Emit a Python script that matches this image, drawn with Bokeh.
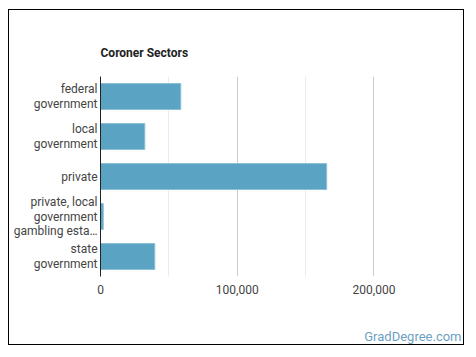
from bokeh.plotting import figure
from bokeh.models import (Range1d, FixedTicker, NumeralTickFormatter, Title,
                          CustomJSTickFormatter)
from bokeh.embed import file_html
from bokeh.resources import INLINE

categories = ["federal\ngovernment", "local\ngovernment", "private",
              "private, local\ngovernment\ngambling esta\u2026", "state\ngovernment"]
values = [58700, 32400, 165400, 2000, 39700]
x_ticks = [0, 100000, 200000]
x_minor = [50000, 150000]

n = len(categories)
ypos = [n - 0.5 - i for i in range(n)]

frame_h = 201
line_units = 15 / (frame_h / n)   # one text line, in y units
tick_y, tick_txt = [], []
for y, cat in zip(ypos, categories):
    lines = cat.split("\n")
    k = len(lines)
    for j, t in enumerate(lines):
        tick_y.append(y + ((k - 1) / 2 - j) * line_units)
        tick_txt.append(t)

p = figure(width=456, height=336, output_backend="svg", toolbar_location=None,
           x_range=Range1d(0, 264000), y_range=Range1d(0, n),
           min_border_left=91, min_border_right=4, min_border_top=66, min_border_bottom=69,
           styles={"border": "1px solid #000000", "transform": "translate(8px, 9px)"})
p.outline_line_color = None
p.background_fill_color = "white"
p.border_fill_color = "white"

p.hbar(y=ypos, right=values, left=0, height=0.65, fill_color="#5ba3c3",
       line_color="#8cc0d8", line_width=1)

p.title.text = "Coroner Sectors"
p.title.align = "left"
p.title.text_font = "Roboto"
p.title.text_font_size = "12px"
p.title.text_font_style = "bold"
p.title.text_color = "#222222"
p.title.standoff = 33

p.xaxis.ticker = FixedTicker(ticks=x_ticks, minor_ticks=x_minor)
p.xaxis.formatter = NumeralTickFormatter(format="0,0")
p.xaxis.axis_line_color = None
p.xaxis.major_tick_line_color = None
p.xaxis.minor_tick_line_color = None
p.xaxis.major_tick_out = 0
p.xaxis.minor_tick_out = 0
p.xaxis.major_label_text_font = "Roboto"
p.xaxis.major_label_text_font_size = "12px"
p.xaxis.major_label_text_color = "#444444"
p.xaxis.major_label_standoff = 8
p.xaxis.axis_label = " "
p.xaxis.axis_label_text_font_size = "12px"
p.xaxis.axis_label_standoff = 10

p.yaxis.ticker = FixedTicker(ticks=tick_y, minor_ticks=[])
p.yaxis.formatter = CustomJSTickFormatter(args=dict(ys=tick_y, txt=tick_txt), code="""
    for (let i = 0; i < ys.length; i++) {
        if (Math.abs(tick - ys[i]) < 1e-6) return txt[i];
    }
    return "";
""")
p.yaxis.axis_line_color = "#222222"
p.yaxis.major_tick_line_color = None
p.yaxis.minor_tick_line_color = None
p.yaxis.major_tick_out = 0
p.yaxis.minor_tick_out = 0
p.yaxis.major_label_text_font = "Roboto"
p.yaxis.major_label_text_font_size = "12px"
p.yaxis.major_label_text_color = "#444444"
p.yaxis.major_label_standoff = 3

p.ygrid.grid_line_color = None
p.xgrid.ticker = FixedTicker(ticks=x_ticks, minor_ticks=x_minor)
p.xgrid.grid_line_color = "#cccccc"
p.xgrid.minor_grid_line_color = "#ebebeb"

p.add_layout(Title(text="GradDegree.com", align="right", text_font="Roboto",
                   text_font_size="13px", text_font_style="normal",
                   text_color="#6e9fc1", standoff=6), "below")

open("out.html", "w").write(file_html(p, INLINE))
